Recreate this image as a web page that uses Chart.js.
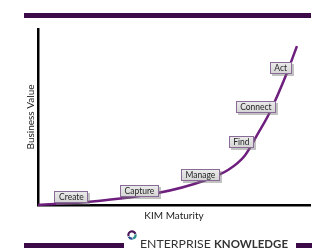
<!DOCTYPE html>
<html>
<head>
<meta charset="utf-8">
<script src="https://cdn.jsdelivr.net/npm/chart.js@4"></script>
<style>
  html, body { margin: 0; padding: 0; background: #fff; }
  #wrap { width: 336px; height: 252px; }
</style>
</head>
<body>
<div id="wrap"><canvas id="myChart" width="336" height="252"></canvas></div>
<script>
// curve (maturity 0-100, value 0-100)
var maturity = [0, 18, 44, 61, 70, 76, 81, 85, 91.5, 95.2];
var value    = [0, 1.7, 6.8, 13.8, 20, 28, 41, 52, 75, 90.3];

// stage labels and where they sit
var stages  = ['Create', 'Capture', 'Manage', 'Find', 'Connect', 'Act'];
var stageX  = [12.3, 37.3, 59.7, 74.8, 80.1, 89.2];
var stageY  = [4.3, 7.7, 17.0, 35.8, 55.7, 77.6];

var purple = '#3c0a48';

var stageBoxes = {
    id: 'stageBoxes',
    afterDatasetsDraw: function (chart) {
        var ctx = chart.ctx;
        var xs = chart.scales.x, ys = chart.scales.y;
        ctx.save();
        ctx.font = '8.5px Lato, "Open Sans", sans-serif';
        ctx.textAlign = 'center';
        ctx.textBaseline = 'middle';
        stages.forEach(function (name, i) {
            var cx = xs.getPixelForValue(stageX[i]);
            var cy = ys.getPixelForValue(stageY[i]);
            var w = Math.round(ctx.measureText(name).width) + 9;
            var h = 12;
            var x = Math.round(cx - w / 2), y = Math.round(cy - h / 2);
            // shadow
            ctx.fillStyle = 'rgba(120,120,120,0.45)';
            ctx.fillRect(x + 2, y + 2, w, h);
            var g = ctx.createLinearGradient(0, y, 0, y + h);
            g.addColorStop(0, '#ececec');
            g.addColorStop(1, '#d4d4d4');
            ctx.fillStyle = g;
            ctx.fillRect(x, y, w, h);
            ctx.strokeStyle = '#8a6a96';
            ctx.lineWidth = 1;
            ctx.strokeRect(x + 0.5, y + 0.5, w - 1, h - 1);
            ctx.fillStyle = '#262626';
            ctx.fillText(name, cx, y + h / 2 + 0.5);
        });
        ctx.restore();
    },
    afterDraw: function (chart) {
        var ctx = chart.ctx;
        ctx.save();
        // top band
        ctx.fillStyle = purple;
        ctx.fillRect(24, 13, 287, 5);
        // bottom bands
        ctx.fillRect(24, 243, 100, 5);
        ctx.fillRect(296, 243, 16, 5);
        // logo mark
        var lx = 132, ly = 235;
        ctx.lineWidth = 2.2;
        ctx.strokeStyle = '#4a1458';
        ctx.beginPath();
        ctx.arc(lx, ly, 3.6, Math.PI * 0.9, Math.PI * 1.9);
        ctx.stroke();
        ctx.strokeStyle = '#2f8f8a';
        ctx.beginPath();
        ctx.arc(lx, ly, 3.6, Math.PI * 1.95, Math.PI * 2.4);
        ctx.stroke();
        ctx.strokeStyle = '#2a4f8f';
        ctx.beginPath();
        ctx.arc(lx, ly, 3.6, Math.PI * 2.45, Math.PI * 2.85);
        ctx.stroke();
        // wordmark
        ctx.fillStyle = '#333333';
        ctx.textBaseline = 'alphabetic';
        ctx.textAlign = 'left';
        ctx.font = '11px Lato, "Open Sans", sans-serif';
        var t1 = 'ENTERPRISE ';
        var w1 = ctx.measureText(t1).width;
        ctx.save();
        ctx.translate(140, 248);
        ctx.scale(74 / w1, 1);
        ctx.fillText(t1, 0, 0);
        ctx.restore();
        ctx.font = 'bold 11px Lato, "Open Sans", sans-serif';
        var t2 = 'KNOWLEDGE';
        var w2 = ctx.measureText(t2).width;
        ctx.translate(214, 248);
        ctx.scale(74 / w2, 1);
        ctx.fillText(t2, 0, 0);
        ctx.restore();
    }
};

var points = maturity.map(function (m, i) { return { x: m, y: value[i] }; });

new Chart(document.getElementById('myChart'), {
    type: 'line',
    data: {
        datasets: [{
            data: points,
            borderColor: '#6e1f7e',
            borderWidth: 2.5,
            pointRadius: 0,
            cubicInterpolationMode: 'monotone',
            fill: false,
            clip: false
        }]
    },
    options: {
        responsive: false,
        animation: false,
        events: [],
        layout: { padding: { left: 25, right: 26, top: 29, bottom: 30 } },
        plugins: { legend: { display: false }, tooltip: { enabled: false } },
        scales: {
            x: {
                type: 'linear', min: 0, max: 100,
                grid: { display: false, drawTicks: false },
                border: { display: true, color: '#000', width: 2.5 },
                ticks: { display: false },
                title: {
                    display: true, text: 'KIM Maturity', color: '#222',
                    font: { size: 10, family: 'Lato, "Open Sans", sans-serif' },
                    padding: { top: 5, bottom: 0 }
                }
            },
            y: {
                min: 0, max: 100,
                grid: { display: false, drawTicks: false },
                border: { display: true, color: '#000', width: 2.5 },
                ticks: { display: false },
                title: {
                    display: true, text: 'Business Value', color: '#222',
                    font: { size: 10, family: 'Lato, "Open Sans", sans-serif' },
                    padding: { top: 0, bottom: 1 }
                }
            }
        }
    },
    plugins: [stageBoxes]
});
</script>
</body>
</html>
